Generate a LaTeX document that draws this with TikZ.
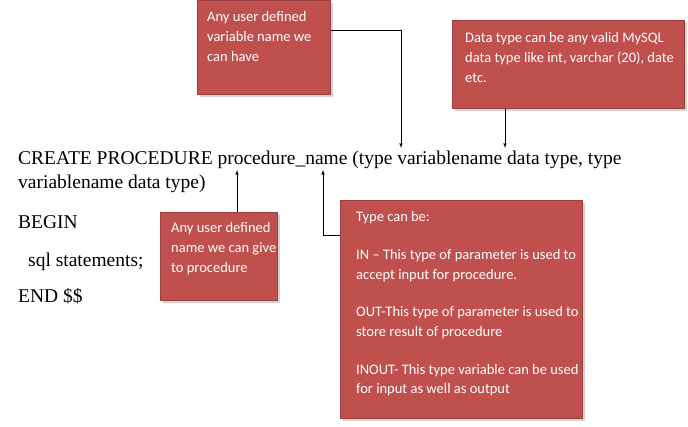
\documentclass[tikz,border=0pt]{standalone}
\usepackage{fontspec}
\setmainfont{Liberation Serif}
\newfontfamily\boxfont{Carlito}
\usetikzlibrary{shadows}
\definecolor{boxred}{HTML}{C0504D}
\begin{document}
\begin{tikzpicture}[x=1pt,y=-1pt,
  rbox/.style={fill=boxred,draw=boxred!80!black,line width=0.6pt,drop shadow={shadow xshift=3pt,shadow yshift=-3pt,opacity=0.35}},
  btext/.style={anchor=base west,inner sep=0,font=\boxfont\fontsize{14.5}{16}\selectfont,text=white,yshift=-3pt},
  mtext/.style={anchor=base west,inner sep=0,font=\fontsize{19.5}{22}\selectfont},
  arr/.style={-latex,line width=0.6pt}]
\useasboundingbox (0,0) rectangle (688,427);
% boxes
\node[rbox,minimum width=133,minimum height=94,anchor=north west] (b1) at (197,0) {};
\node[rbox,minimum width=232,minimum height=88,anchor=north west] (b2) at (452,20) {};
\node[rbox,minimum width=117,minimum height=88,anchor=north west] (b3) at (160,212) {};
\node[rbox,minimum width=242,minimum height=218,anchor=north west] (b4) at (340,200) {};
\node[btext] at (207,19) {Any user defined};
\node[btext] at (207,39) {variable name we};
\node[btext] at (207,59) {can have};
\node[btext] at (465,40) {Data type can be any valid MySQL};
\node[btext] at (465,60) {data type like int, varchar (20), date};
\node[btext] at (465,80) {etc.};
\node[btext] at (171,230) {Any user defined};
\node[btext] at (171,250) {name we can give};
\node[btext] at (171,270) {to procedure};
\node[btext] at (356,219) {Type can be:};
\node[btext] at (356,257) {IN – This type of parameter is used to};
\node[btext] at (356,277) {accept input for procedure.};
\node[btext] at (356,314) {OUT-This type of parameter is used to};
\node[btext] at (356,334) {store result of procedure};
\node[btext] at (356,371) {INOUT- This type variable can be used};
\node[btext] at (356,391) {for input as well as output};
% main text
\node[mtext] (l1) at (18,165) {CREATE PROCEDURE procedure\_name (type variablename data type, type};
\node[mtext] (l2) at (18,189) {variablename data type)};
\node[mtext] (l3) at (18,229) {BEGIN};
\node[mtext] (l4) at (28,267) {sql statements;};
\node[mtext] (l5) at (18,303) {END \$\$};
% connectors
\coordinate (t1) at (401,148);
\coordinate (t2) at (505,148);
\coordinate (t3) at (237,170);
\coordinate (t4) at (323,170);
\draw[arr] (b1.north east |- 0,30) -- (401,30) -- (t1);
\draw[arr] (b2.south west -| t2) -- (t2);
\draw[arr] (b3.north west -| t3) -- (t3);
\draw[arr] (b4.north west |- 0,235) -- (323,235) -- (t4);
\end{tikzpicture}
\end{document}
